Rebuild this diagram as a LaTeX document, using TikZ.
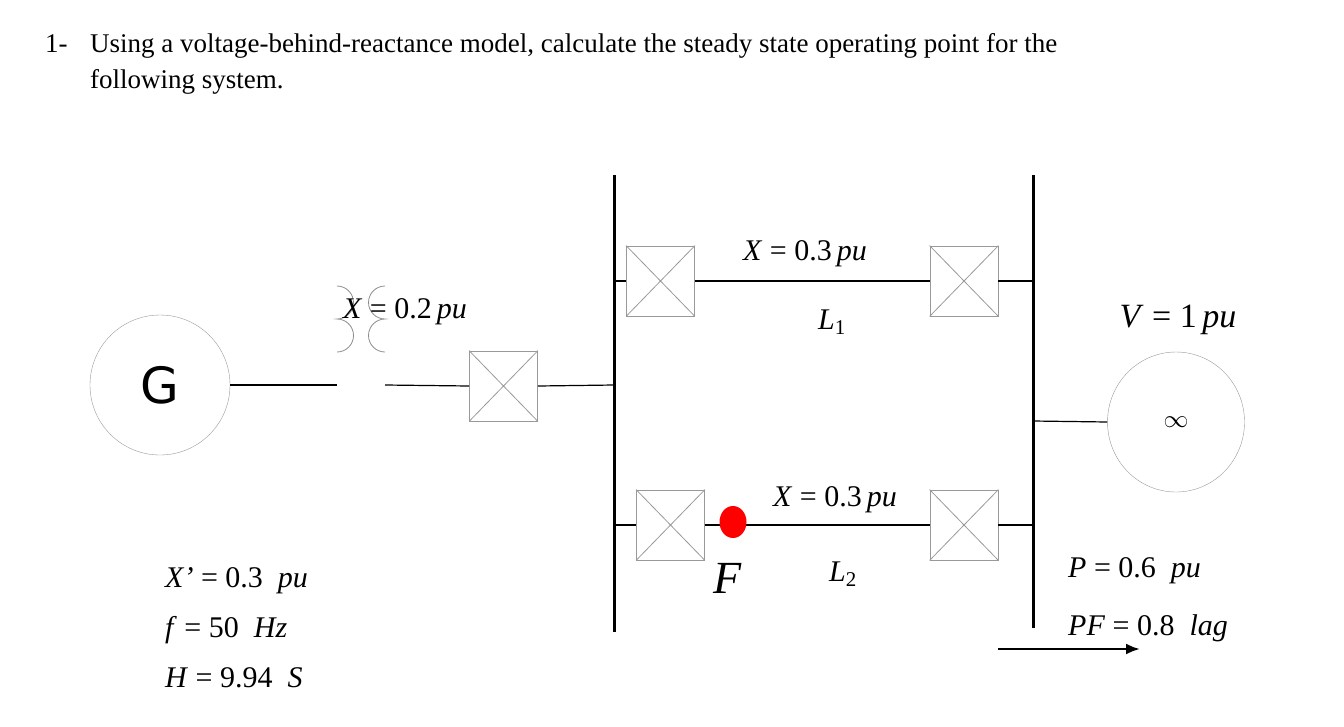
\documentclass[tikz,border=0pt]{standalone}
\usetikzlibrary{shapes.geometric,arrows.meta}
\usepackage{fontspec}
\setmainfont{Liberation Serif}
\newfontfamily\gfont{DejaVu Sans}
\begin{document}
\begin{tikzpicture}[x=1pt,y=-1pt,
  brk/.style={draw=gray!80,line width=0.8pt,minimum width=68pt,minimum height=70pt,inner sep=0pt},
  bus/.style={line width=3pt},
  ln/.style={line width=1.2pt},
  lbl/.style={font=\fontsize{30}{34}\selectfont,inner sep=0pt},
  txt/.style={font=\fontsize{27}{30}\selectfont,inner sep=0pt,anchor=base west}]
\useasboundingbox (0,0) rectangle (1344,726);
% title
\node[txt] (n1) at (45,52) {1-};
\node[txt] (t1) at (90,52) {Using a voltage-behind-reactance model, calculate the steady state operating point for the};
\node[txt] (t2) at (90,88) {following system.};
% buses
\coordinate (b1t) at (614,175); \coordinate (b1b) at (614,632);
\coordinate (b2t) at (1033,175); \coordinate (b2b) at (1033,628);
\draw[bus] (b1t) -- (b1b);
\draw[bus] (b2t) -- (b2b);
% generator
\node[circle,draw=gray!80,minimum size=140pt,inner sep=0pt] (G) at (160,385) {\gfont\fontsize{50}{50}\selectfont G};
% transformer
\coordinate (tl) at (337,385); \coordinate (tr) at (385,385);
\draw[gray!90,line width=0.8pt] (337,352) arc[start angle=90,end angle=-90,radius=16.5] arc[start angle=90,end angle=-90,radius=16.5];
\draw[gray!90,line width=0.8pt] (385,352) arc[start angle=90,end angle=270,radius=16.5] arc[start angle=90,end angle=270,radius=16.5];
\node[brk] (bg) at (503.5,386) {};
\draw[gray!80,line width=0.8pt] (bg.north west)--(bg.south east) (bg.north east)--(bg.south west);
\coordinate (b1g) at (614,385);
\draw[ln] (G.east) -- (tl);
\draw[ln] (tr) -- (bg.west);
\draw[ln] (bg.east) -- (b1g);
\node[lbl] (xg) at (405,312) {\textit{X} = 0.2\,\textit{pu}};
% L1
\node[brk] (a1) at (660.5,281) {};
\node[brk] (a2) at (964,281) {};
% L2
\node[brk] (c1) at (670.5,525) {};
\node[brk] (c2) at (964,525) {};
\foreach \b in {a1,a2,c1,c2}{\draw[gray!80,line width=0.8pt] (\b.north west)--(\b.south east) (\b.north east)--(\b.south west);}
\coordinate (p1) at (614,281); \coordinate (p2) at (1033,281);
\coordinate (q1) at (614,525); \coordinate (q2) at (1033,525);
\draw[ln] (p1)--(a1.west) (a1.east)--(a2.west) (a2.east)--(p2);
\draw[ln] (q1)--(c1.west) (c1.east)--(c2.west) (c2.east)--(q2);
\node[fill=red,ellipse,minimum width=27pt,minimum height=32pt,inner sep=0pt] (F) at (733,522) {};
\node[lbl] (x1) at (805,254) {\textit{X} = 0.3\,\textit{pu}};
\node[lbl] (l1) at (832,322) {\textit{L}\textsubscript{1}};
\node[lbl] (x2) at (835,500) {\textit{X} = 0.3\,\textit{pu}};
\node[lbl] (l2) at (843,574) {\textit{L}\textsubscript{2}};
\node[inner sep=0pt,font=\fontsize{46}{46}\selectfont] (fl) at (728,578) {\textit{F}};
% infinite bus
\node[ellipse,draw=gray!80,minimum width=137pt,minimum height=140pt,inner sep=0pt] (inf) at (1176,422) {\fontsize{60}{60}\selectfont$\infty$};
\coordinate (b2i) at (1033,421);
\draw[ln] (b2i) -- (inf.west);
\node[lbl,font=\fontsize{34}{38}\selectfont] (v) at (1178,320) {\textit{V} = 1\,\textit{pu}};
% params
\node[lbl,anchor=base west] (p) at (1068,577) {\textit{P} = 0.6\ \ \textit{pu}};
\node[lbl,anchor=base west] (pf) at (1068,635) {\textit{PF} = 0.8\ \ \textit{lag}};
\node[lbl,anchor=base west] (xp) at (165,587) {\textit{X'} = 0.3\ \ \textit{pu}};
\node[lbl,anchor=base west] (f) at (165,637) {\textit{f} = 50\ \ \textit{Hz}};
\node[lbl,anchor=base west] (h) at (165,687) {\textit{H} = 9.94\ \ \textit{S}};
\coordinate (ar1) at (998,649); \coordinate (ar2) at (1140,649);
\draw[line width=2.5pt,-{Latex[length=14pt,width=11pt]}] (ar1) -- (ar2);
\end{tikzpicture}
\end{document}
